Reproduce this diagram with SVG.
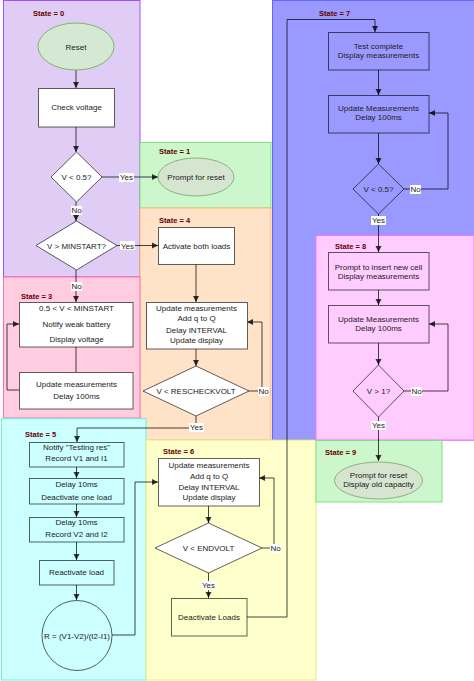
<svg xmlns="http://www.w3.org/2000/svg" width="474" height="681" viewBox="0 0 474 681">
<style>
text{font-family:"Liberation Sans",Arial,sans-serif;font-size:8px;fill:#222;text-anchor:middle}
.st{font-weight:bold;fill:#660000;text-anchor:start;font-size:7.5px}
.n{stroke:#000;stroke-opacity:.62;stroke-width:1}
.w{fill:#fff}
.t{fill:none}
.g{fill:#d5e8d4;stroke:#82b366;stroke-width:1}
.gg{fill:#d5e5d0;stroke:#8fb080;stroke-width:1}
.c{fill:none;stroke:#000;stroke-opacity:.72;stroke-width:1}
.lb{fill:#fff}
</style>
<defs>
<marker id="a" markerWidth="8" markerHeight="8" refX="6" refY="3.5" orient="auto" markerUnits="userSpaceOnUse"><path d="M0,0.5 L6,3.5 L0,6.5 Z" fill="#000" fill-opacity=".78"/></marker>
</defs>
<g id="regions">
<rect id="state7" x="272.5" y="0.5" width="202" height="439.5" fill="#9999ff" stroke="#6666ff"/>
<rect id="state0" x="3.5" y="0.5" width="136.5" height="276.5" fill="#e0cdf6" stroke="#a64dff"/>
<rect id="state1" x="140" y="142.5" width="131" height="65.5" fill="#ccf7cc" stroke="#7ee07e"/>
<rect id="state4" x="140" y="208" width="131" height="232" fill="#ffe3c8" stroke="#ffb570"/>
<rect id="state3" x="3.5" y="277" width="136.5" height="141" fill="#ffcce0" stroke="#ff70aa"/>
<rect id="state5" x="1.5" y="418.5" width="144.5" height="261.5" fill="#ccffff" stroke="#70f0d0"/>
<rect id="state6" x="146" y="440" width="170" height="240" fill="#ffffcc" stroke="#eaea80"/>
<rect id="state8" x="316" y="235.5" width="158" height="204.5" fill="#ffccff" stroke="#ff70ff"/>
<rect id="state9" x="316" y="440.5" width="126" height="61.5" fill="#ccf7cc" stroke="#7ee07e"/>
<text class="st" x="33" y="16">State = 0</text>
<text class="st" x="159" y="154">State = 1</text>
<text class="st" x="159" y="223">State = 4</text>
<text class="st" x="21" y="299">State = 3</text>
<text class="st" x="25" y="437">State = 5</text>
<text class="st" x="163" y="454">State = 6</text>
<text class="st" x="319" y="16">State = 7</text>
<text class="st" x="335" y="249">State = 8</text>
<text class="st" x="325" y="455">State = 9</text>
</g>
<g id="connectors">
<path class="c" d="M76,70 V88" marker-end="url(#a)"/>
<path class="c" d="M76,127 V152" marker-end="url(#a)"/>
<path class="c" d="M102,177 H158" marker-end="url(#a)"/>
<path class="c" d="M76,202 V221" marker-end="url(#a)"/>
<path class="c" d="M117,245.5 H158" marker-end="url(#a)"/>
<path class="c" d="M76,270 V302" marker-end="url(#a)"/>
<path class="c" d="M196,264 V302" marker-end="url(#a)"/>
<path class="c" d="M196,349 V366" marker-end="url(#a)"/>
<path class="c" d="M249,391 H262 V322 H247" marker-end="url(#a)"/>
<path class="c" d="M196,416 V428 H77 V442" marker-end="url(#a)"/>
<path class="c" d="M76,347 V372"/>
<path class="c" d="M19,390 H7 V324 H19" marker-end="url(#a)"/>
<path class="c" d="M76.5,467 V478" marker-end="url(#a)"/>
<path class="c" d="M76.5,504 V517" marker-end="url(#a)"/>
<path class="c" d="M76.5,542 V560" marker-end="url(#a)"/>
<path class="c" d="M76.5,585 V600" marker-end="url(#a)"/>
<path class="c" d="M112,635 H135 V482 H158" marker-end="url(#a)"/>
<path class="c" d="M208.5,506 V523" marker-end="url(#a)"/>
<path class="c" d="M262,548 H274 V478 H259" marker-end="url(#a)"/>
<path class="c" d="M208.5,573 V598" marker-end="url(#a)"/>
<path class="c" d="M247,617 H287 V19.5 H375 V32" marker-end="url(#a)"/>
<path class="c" d="M378.5,70 V95" marker-end="url(#a)"/>
<path class="c" d="M378.5,133 V164" marker-end="url(#a)"/>
<path class="c" d="M404,189 H448 V113 H429" marker-end="url(#a)"/>
<path class="c" d="M378.5,214 V252" marker-end="url(#a)"/>
<path class="c" d="M378.5,290 V305" marker-end="url(#a)"/>
<path class="c" d="M378.5,343 V365" marker-end="url(#a)"/>
<path class="c" d="M404,391 H448 V324 H429" marker-end="url(#a)"/>
<path class="c" d="M378.5,417 V461" marker-end="url(#a)"/>
<g id="edge-labels">
<rect class="lb" x="119" y="173" width="15" height="9"/><text x="126.5" y="180">Yes</text>
<rect class="lb" x="71" y="206" width="11" height="9"/><text x="76.5" y="213">No</text>
<rect class="lb" x="120" y="241" width="15" height="9"/><text x="127.5" y="248.5">Yes</text>
<rect class="lb" x="71" y="282" width="11" height="9"/><text x="76.5" y="289">No</text>
<rect class="lb" x="258" y="387" width="11" height="9"/><text x="263.5" y="394">No</text>
<rect class="lb" x="189" y="423" width="15" height="9"/><text x="196.5" y="430">Yes</text>
<rect class="lb" x="270" y="544" width="11" height="9"/><text x="275.5" y="551">No</text>
<rect class="lb" x="201" y="581" width="15" height="9"/><text x="208.5" y="588">Yes</text>
<rect class="lb" x="410" y="185" width="11" height="9"/><text x="415.5" y="192">No</text>
<rect class="lb" x="371" y="216" width="15" height="9"/><text x="378.5" y="223">Yes</text>
<rect class="lb" x="411" y="387" width="11" height="9"/><text x="416.5" y="394">No</text>
<rect class="lb" x="371" y="421" width="15" height="9"/><text x="378.5" y="428">Yes</text>
</g>
</g>
<g id="n-reset"><ellipse class="g" cx="76" cy="46.5" rx="38" ry="23.5"/><text x="76" y="49.5">Reset</text></g>
<g id="n-check"><rect class="n w" x="38.5" y="88.5" width="76" height="38.5"/><text x="76.5" y="110">Check voltage</text></g>
<g id="n-d1"><path class="n w" d="M76.5,152 L102,177 L76.5,202 L51,177 Z"/><text x="76.5" y="180">V &lt; 0.5?</text></g>
<g id="n-d2"><path class="n w" d="M76.5,221 L117,245.5 L76.5,270 L36,245.5 Z"/><text x="76.5" y="248.5">V &gt; MINSTART?</text></g>
<g id="n-prompt1"><ellipse class="gg" cx="196" cy="177" rx="38" ry="19"/><text x="196" y="180">Prompt for reset</text></g>
<g id="n-activate"><rect class="n w" x="158.5" y="227.5" width="76" height="37"/><text x="196.5" y="248.5">Activate both loads</text></g>
<g id="n-upd4"><rect class="n w" x="146.5" y="302.5" width="101" height="46.5"/><text x="196.5" y="311">Update measurements</text><text x="196.5" y="321">Add q to Q</text><text x="196.5" y="333">Delay INTERVAL</text><text x="196.5" y="343">Update display</text></g>
<g id="n-d4"><path class="n w" d="M196,366 L249,391 L196,416 L143,391 Z"/><text x="196" y="394">V &lt; RESCHECKVOLT</text></g>
<g id="n-s3a"><rect class="n w" x="19.5" y="302.5" width="113.5" height="44.5"/><text x="76.5" y="311">0.5 &lt; V &lt; MINSTART</text><text x="76.5" y="327">Notify weak battery</text><text x="76.5" y="342">Display voltage</text></g>
<g id="n-s3b"><rect class="n w" x="19.5" y="372.5" width="113.5" height="36.5"/><text x="76.5" y="387">Update measurements</text><text x="76.5" y="399">Delay 100ms</text></g>
<g id="n-notify"><rect class="n t" x="29.5" y="442.5" width="94.5" height="24.5"/><text x="76.5" y="450">Notify "Testing res"</text><text x="76.5" y="461">Record V1 and I1</text></g>
<g id="n-delay1"><rect class="n t" x="29.5" y="478.5" width="94.5" height="25.5"/><text x="76.5" y="487">Delay 10ms</text><text x="76.5" y="500">Deactivate one load</text></g>
<g id="n-delay2"><rect class="n t" x="29.5" y="517.5" width="94.5" height="24.5"/><text x="76.5" y="525">Delay 10ms</text><text x="76.5" y="537">Record V2 and I2</text></g>
<g id="n-react"><rect class="n t" x="39.5" y="560.5" width="74.5" height="24.5"/><text x="76.5" y="575">Reactivate load</text></g>
<g id="n-r"><circle class="n t" cx="77" cy="635.5" r="35"/><text x="77" y="638.5">R = (V1-V2)/(I2-I1)</text></g>
<g id="n-upd6"><rect class="n w" x="158.5" y="458.5" width="101" height="47.5"/><text x="209" y="468">Update measurements</text><text x="209" y="479">Add q to Q</text><text x="209" y="490">Delay INTERVAL</text><text x="209" y="500">Update display</text></g>
<g id="n-d6"><path class="n w" d="M208.5,523 L262,548 L208.5,573 L155,548 Z"/><text x="208.5" y="551">V &lt; ENDVOLT</text></g>
<g id="n-deact"><rect class="n t" x="171.5" y="598.5" width="75.5" height="37.5"/><text x="209" y="620">Deactivate Loads</text></g>
<g id="n-test"><rect class="n t" x="328.5" y="32.5" width="100.5" height="37.5"/><text x="378.5" y="49">Test complete</text><text x="378.5" y="58">Display measurements</text></g>
<g id="n-upd7"><rect class="n t" x="328.5" y="95.5" width="100.5" height="37.5"/><text x="378.5" y="111">Update Measurements</text><text x="378.5" y="120">Delay 100ms</text></g>
<g id="n-d7"><path class="n t" d="M378.5,164 L404,189 L378.5,214 L353,189 Z"/><text x="378.5" y="192">V &lt; 0.5?</text></g>
<g id="n-prompt8"><rect class="n t" x="328.5" y="252.5" width="100.5" height="37.5"/><text x="378.5" y="269.5">Prompt to insert new cell</text><text x="378.5" y="278.5">Display measurements</text></g>
<g id="n-upd8"><rect class="n t" x="328.5" y="305.5" width="100.5" height="37.5"/><text x="378.5" y="322">Update Measurements</text><text x="378.5" y="331">Delay 100ms</text></g>
<g id="n-d8"><path class="n t" d="M378.5,365 L404,391 L378.5,417 L353,391 Z"/><text x="378.5" y="394">V &gt; 1?</text></g>
<g id="n-prompt9"><ellipse class="gg" cx="378.5" cy="480.5" rx="44" ry="18.5"/><text x="378.5" y="478">Prompt for reset</text><text x="378.5" y="487">Display old capacity</text></g>
</svg>
